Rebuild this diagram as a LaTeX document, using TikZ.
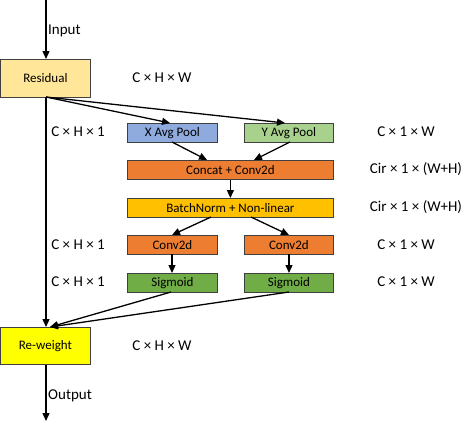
\documentclass[tikz,border=0pt]{standalone}
\usepackage{fontspec}
\setmainfont{Carlito}
\usetikzlibrary{arrows.meta}
\definecolor{cres}{HTML}{FFE699}
\definecolor{cxp}{HTML}{8FAADC}
\definecolor{cyp}{HTML}{A9D18E}
\definecolor{corg}{HTML}{ED7D31}
\definecolor{cgold}{HTML}{FFC000}
\definecolor{cgrn}{HTML}{70AD47}
\definecolor{cyel}{HTML}{FFFF00}
\definecolor{cedge}{HTML}{404040}
\begin{document}
\begin{tikzpicture}[x=1pt,y=-1pt,
  box/.style={draw=cedge,line width=0.8pt,inner sep=0pt,anchor=north west,font=\fontsize{13}{13}\selectfont},
  lab/.style={font=\fontsize{15}{15}\selectfont,inner sep=0pt},
  arr/.style={line width=1.3pt,-{Triangle[length=8pt,width=7pt]}},
  ln/.style={line width=1.3pt}]
\useasboundingbox (0,0) rectangle (474,423);
% boxes
\node[box,fill=cres,minimum width=90pt,minimum height=38pt] (res) at (0,59) {Residual};
\node[box,fill=cxp,minimum width=90pt,minimum height=19pt] (xp) at (127,123) {X Avg Pool};
\node[box,fill=cyp,minimum width=89pt,minimum height=19pt] (yp) at (244,123) {Y Avg Pool};
\node[box,fill=corg,minimum width=206pt,minimum height=19pt] (cc) at (127,160) {Concat + Conv2d};
\node[box,fill=cgold,minimum width=206pt,minimum height=19pt] (bn) at (127,198) {BatchNorm + Non-linear};
\node[box,fill=corg,minimum width=90pt,minimum height=19pt] (c1) at (127,235) {Conv2d};
\node[box,fill=corg,minimum width=89pt,minimum height=19pt] (c2) at (244,235) {Conv2d};
\node[box,fill=cgrn,minimum width=90pt,minimum height=19pt] (s1) at (127,273) {Sigmoid};
\node[box,fill=cgrn,minimum width=89pt,minimum height=19pt] (s2) at (244,273) {Sigmoid};
\node[box,fill=cyel,minimum width=90pt,minimum height=37pt] (rw) at (0,327) {Re-weight};
% in/out
\coordinate (top) at (46,0);
\coordinate (bot) at (46,421);
\draw[arr] (top) -- (res.north -| top);
\draw[arr] (rw.south -| top) -- (bot);
\node[lab,anchor=west] (tin) at (48,31) {Input};
\node[lab,anchor=west] (tout) at (48,396) {Output};
% connectors
\coordinate (rb) at (46,97);
\draw[arr] (rb) -- (170,123);
\draw[arr] (rb) -- (285,123);
\draw[arr] (rb) -- (rw.north -| rb);
\draw[arr] (172,142) -- (207,160);
\draw[arr] (290,142) -- (254,160);
\draw[arr] (cc.south) -- (bn.north);
\draw[arr] (211,217) -- (172,235);
\draw[arr] (251,217) -- (289,235);
\draw[arr] (172,254) -- (172,273);
\draw[arr] (289,254) -- (289,273);
\draw[arr] (171,292) -- (50,327);
\draw[arr] (289,292) -- (50,327);
% labels
\node[lab] (l1) at (162,78) {C × H × W};
\node[lab] (l2) at (78,132) {C × H × 1};
\node[lab] (l3) at (78,245) {C × H × 1};
\node[lab] (l4) at (78,282) {C × H × 1};
\node[lab] (l5) at (162,346) {C × H × W};
\node[lab] (r1) at (406,132) {C × 1 × W};
\node[lab] (r2) at (416,169) {Cir × 1 × (W+H)};
\node[lab] (r3) at (416,207) {Cir × 1 × (W+H)};
\node[lab] (r4) at (406,245) {C × 1 × W};
\node[lab] (r5) at (406,282) {C × 1 × W};
\end{tikzpicture}
\end{document}
